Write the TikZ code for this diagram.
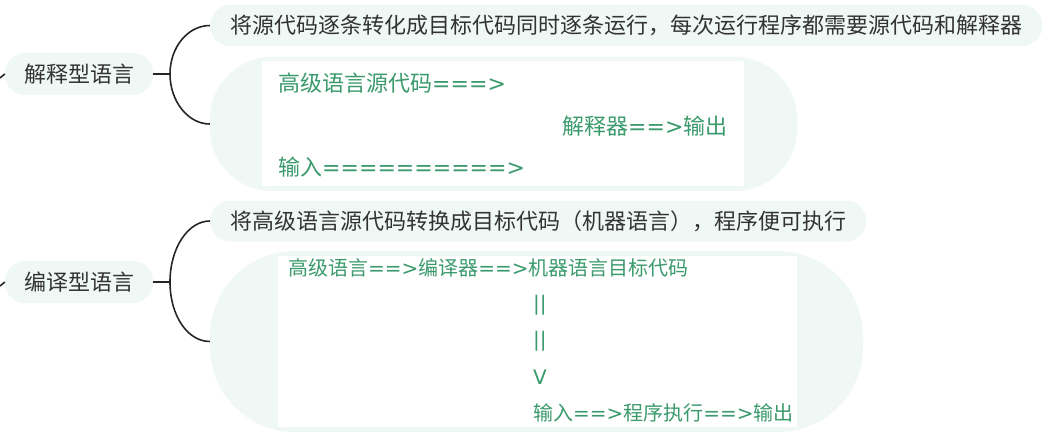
\documentclass[tikz,border=0pt]{standalone}
\usepackage{fontspec}
\setmainfont{Noto Sans CJK SC}
\newfontfamily\ascfont{DejaVu Sans}
\usetikzlibrary{positioning}
\definecolor{mint}{RGB}{240,248,245}
\definecolor{leaf}{RGB}{58,154,108}
\definecolor{ink}{RGB}{51,51,51}
\newcommand{\sym}[1]{{\ascfont #1}}

\begin{document}
\begin{tikzpicture}[x=1pt,y=-1pt,
  topic/.style={fill=mint,text=ink,font=\fontsize{22}{26}\selectfont,inner sep=0pt,minimum width=148pt,minimum height=42pt,rounded corners=20pt},
  note/.style={fill=mint,text=ink,font=\fontsize{22}{26}\selectfont,inner xsep=20pt,inner ysep=0pt,minimum height=41pt,rounded corners=20pt,anchor=west},
  frame/.style={fill=mint,rounded corners=#1,inner sep=0pt},
  paper/.style={fill=white,inner sep=0pt},
  code/.style={text=leaf,inner sep=0pt,anchor=west},
  branch/.style={line width=1.6pt,draw=black!85}]
  \useasboundingbox (0,0) rectangle (1047,433);

  \coordinate (root1) at (0,78);
  \coordinate (root2) at (0,286);
  \coordinate (j1) at (170,74);
  \coordinate (j2) at (170,282);

  \node[topic] (interp) at (79,74) {解释型语言};
  \node[note] (interpnote) at (210,25.5) {将源代码逐条转化成目标代码同时逐条运行，每次运行程序都需要源代码和解释器};
  \node[frame=62pt,minimum width=587pt,minimum height=134pt] (interpbox) at (503.5,124) {};
  \node[paper,minimum width=482pt,minimum height=125pt] (interppaper) at (503,123.5) {};
  \node[code,font=\fontsize{22}{26}\selectfont] (isrc) at (278,83) {高级语言源代码\sym{===>}};
  \node[code,font=\fontsize{22}{26}\selectfont] (irun) at (562,126) {解释器\sym{==>}输出};
  \node[code,font=\fontsize{22}{26}\selectfont] (iin) at (278,167) {输入\sym{==========>}};

  \node[topic] (comp) at (79,282) {编译型语言};
  \node[note] (compnote) at (210,221) {将高级语言源代码转换成目标代码（机器语言），程序便可执行};
  \node[frame=85pt,minimum width=653pt,minimum height=181pt] (compbox) at (536.5,341.5) {};
  \node[paper,minimum width=519pt,minimum height=171pt] (comppaper) at (537.5,341.5) {};
  \node[code,font=\fontsize{20}{24}\selectfont] (csrc) at (288,268) {高级语言\sym{==>}编译器\sym{==>}机器语言目标代码};
  \node[code,font=\fontsize{20}{24}\selectfont] (cbar1) at (533,305) {\sym{||}};
  \node[code,font=\fontsize{20}{24}\selectfont] (cbar2) at (533,341) {\sym{||}};
  \node[code,font=\fontsize{20}{24}\selectfont] (cv) at (533,377) {\sym{V}};
  \node[code,font=\fontsize{20}{24}\selectfont] (crun) at (533,413) {输入\sym{==>}程序执行\sym{==>}输出};

  \draw[branch] (root1) -- (interp.west);
  \draw[branch] (interp.east) -- (j1) .. controls +(0,-27) and +(-22,0) .. (interpnote.west);
  \draw[branch] (j1) .. controls +(0,27) and +(-22,0) .. (interpbox.west);
  \draw[branch] (root2) -- (comp.west);
  \draw[branch] (comp.east) -- (j2) .. controls +(0,-34) and +(-22,0) .. (compnote.west);
  \draw[branch] (j2) .. controls +(0,34) and +(-22,0) .. (compbox.west);
\end{tikzpicture}
\end{document}
